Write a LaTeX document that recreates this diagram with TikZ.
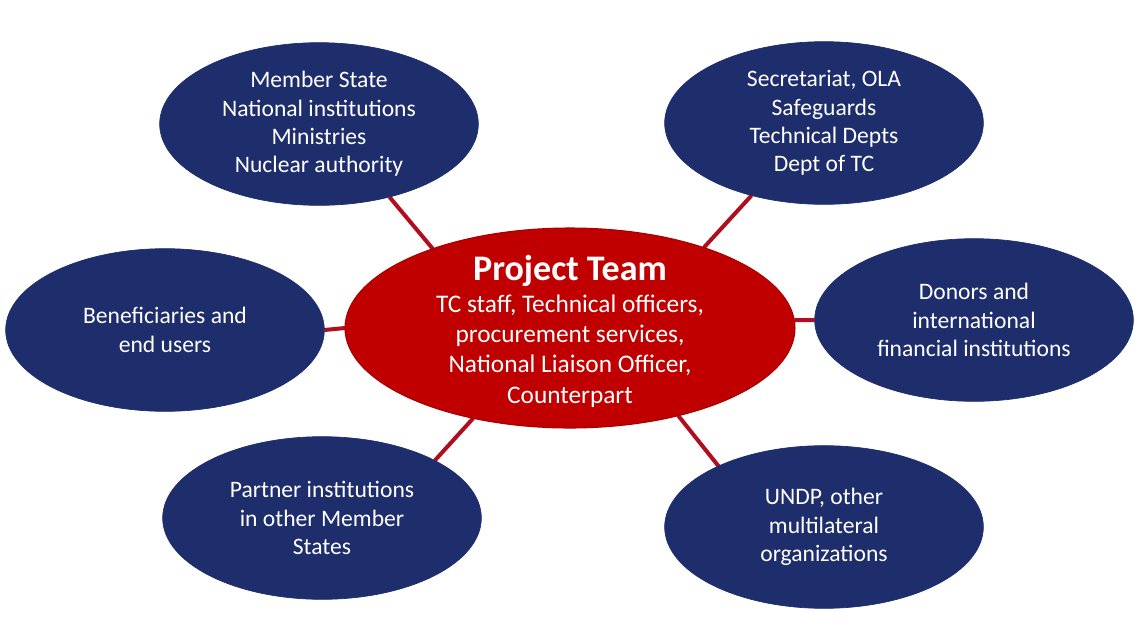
\documentclass[tikz,border=0pt]{standalone}
\usepackage{fontspec}
\setmainfont{Carlito}
\usetikzlibrary{shapes.geometric,backgrounds}
\definecolor{navy}{RGB}{30,45,108}
\definecolor{hubred}{RGB}{192,0,0}
\definecolor{linkred}{RGB}{176,14,30}
\begin{document}
\begin{tikzpicture}[x=0.75pt,y=-0.75pt,
  blob/.style={ellipse,fill=navy,draw=navy,line width=0.5pt,inner sep=0pt,outer sep=0pt,minimum width=239pt,minimum height=122pt},
  hub/.style={ellipse,fill=hubred,draw=hubred!88!black,line width=0.8pt,inner sep=0pt,outer sep=0pt,minimum width=337.5pt,minimum height=150pt},
  txt/.style={text=white,align=center,font=\fontsize{17.7}{21.2}\selectfont,inner sep=0pt},
  hubtxt/.style={text=white,align=center,font=\fontsize{19}{22.65}\selectfont,inner sep=0pt},
  hubtitle/.style={text=white,font=\fontsize{27}{30}\selectfont\bfseries,inner sep=0pt},
  link/.style={draw=linkred,line width=3pt}]
\useasboundingbox (0,0) rectangle (1140,640);

\node[hub] (main) at (570,328) {};
\node[blob] (tl) at (319,124) {};
\node[blob] (tr) at (824,123) {};
\node[blob] (l) at (165,330) {};
\node[blob] (r) at (974,320) {};
\node[blob] (bl) at (322,518) {};
\node[blob] (br) at (824,527) {};

\node[hubtitle,anchor=base] (title) at (570,280) {Project Team};
\node[hubtxt] (hubt) at (570,351) {TC staff, Technical officers,\\procurement services,\\National Liaison Officer,\\Counterpart};

\node[txt] (tlt) at (tl.center) {Member State\\National institutions\\Ministries\\Nuclear authority};
\node[txt] (trt) at (tr.center) {Secretariat, OLA\\Safeguards\\Technical Depts\\Dept of TC};
\node[txt] (lt) at (l.center) {Beneficiaries and\\end users};
\node[txt] (rt) at (r.center) {Donors and\\international\\financial institutions};
\node[txt] (blt) at (bl.center) {Partner institutions\\in other Member\\States};
\node[txt] (brt) at (br.center) {UNDP, other\\multilateral\\organizations};

\begin{pgfonlayer}{background}
\fill[white] (0,0) rectangle (1140,640);
\draw[link] (main.150) -- (tl.-46);
\draw[link] (main.31.6) -- (tr.225);
\draw[link] (main.180.5) -- (l.0);
\draw[link] (main.2) -- (r.180);
\draw[link] (main.223) -- (bl.27.6);
\draw[link] (main.-39) -- (br.150.5);
\end{pgfonlayer}
\end{tikzpicture}
\end{document}
